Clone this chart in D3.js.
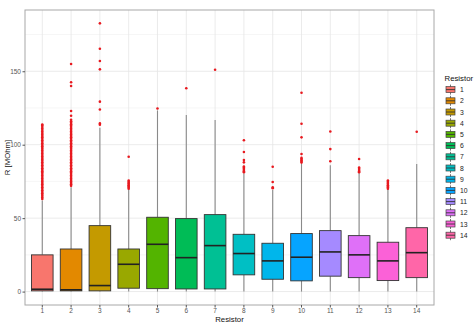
<!DOCTYPE html>
<html><head><meta charset="utf-8">
<script src="https://cdn.jsdelivr.net/npm/d3@7"></script>
<style>body{margin:0;background:#fff}svg{display:block}text{font-family:"Liberation Sans",Arial,sans-serif}</style>
</head><body><div id="chart"></div>
<script>
const categories = ["1","2","3","4","5","6","7","8","9","10","11","12","13","14"];
const colors = ["#F8766D","#E38900","#C49A00","#99A800","#53B400","#00BC56","#00C094","#00BFC4","#00B6EB","#06A4FF","#A58AFF","#DF70F8","#FB61D7","#FF66A8"];
const whiskerLow = [0,0,0,0,0,0,0,0,0,0,0,0,0,0];
const q1 = [0.5,0.5,0.5,2.3,2,1.8,1.8,11.4,8.4,7.3,10.5,9.5,7.5,9.5];
const median = [1.6,1.2,4.1,18.6,32.2,23.1,31.3,25.9,20.9,23.4,27,25,20.9,26.5];
const q3 = [25,29,44.9,29,50.6,49.7,52.4,39,32.9,39.5,41.5,38.1,33.6,43.5];
const whiskerHigh = [62,71,111.6,69.5,123.3,120.2,116.8,80.5,69.2,87,86,81.5,71,86.9];
const outliers = [
  [63,64,65,66,67,68,69,70,71,72,73,74,75,76,77,78,79,80,81,82,83,84,85,86,87,88,89,90,91,92,93,94,95,96,97,98,99,100,101,102,103,104,105,106,107,108,109,110,111,112,113,113.8],
  [72,73,74,75,76,77,78,79,80,81,82,83,84,85,86,87,88,89,90,91,92,93,94,95,96,97,98,99,100,101,102,103,104,105,106,107,108,109,110,111,112,113,114,115,116,117,119.7,122.9,140,142.5,154.9],
  [113.6,114.5,124,129.3,151.3,157,165.3,182.6],
  [70,70.8,71.6,72.4,73.2,74,74.8,75.6,91.8],
  [124.6],
  [138.4],
  [151],
  [81.2,82,82.8,83.6,84.4,85.2,88,89.6,95,103],
  [70.3,71,74.6,85],
  [87.8,88.6,89.4,90.2,91,93.7,105,114.3,135.4],
  [88.7,97,109],
  [81.2,82,82.8,83.6,84.4,90.3],
  [70,70.8,71.6,72.4,73.2,74,74.8,75.6],
  [108.8]
];
const yTicks = [0,50,100,150];
const yMinor = [25,75,125,175];

const W = 474, H = 323;
const m = {left:25, top:10, right:40, bottom:18};
const pw = 409, ph = 295;
const svg = d3.select("#chart").append("svg").attr("width",W).attr("height",H);
const g = svg.append("g").attr("transform",`translate(${m.left},${m.top})`);

const x = d3.scaleBand().domain(categories).range([0,pw]).paddingOuter(0.1).paddingInner(0);
const step = x.step();
const y = d3.scaleLinear().domain([-9.13,191.7]).range([ph,0]);

// grid
g.selectAll(".ymin").data(yMinor).join("line").attr("x1",0).attr("x2",pw)
  .attr("y1",d=>y(d)).attr("y2",d=>y(d)).attr("stroke","#f0f0f0").attr("stroke-width",0.6);
g.selectAll(".ymaj").data(yTicks).join("line").attr("x1",0).attr("x2",pw)
  .attr("y1",d=>y(d)).attr("y2",d=>y(d)).attr("stroke","#e6e6e6").attr("stroke-width",0.8);
g.selectAll(".xmaj").data(categories).join("line").attr("y1",0).attr("y2",ph)
  .attr("x1",d=>x(d)+step/2).attr("x2",d=>x(d)+step/2).attr("stroke","#e6e6e6").attr("stroke-width",0.8);

const bw = step*0.75;
const boxes = g.selectAll(".box").data(categories).join("g");
boxes.append("line").attr("x1",(d)=>x(d)+step/2).attr("x2",d=>x(d)+step/2)
  .attr("y1",(d,i)=>y(q3[i])).attr("y2",(d,i)=>y(whiskerHigh[i])).attr("stroke","#8a8a8a").attr("stroke-width",1.1);
boxes.append("line").attr("x1",(d)=>x(d)+step/2).attr("x2",d=>x(d)+step/2)
  .attr("y1",(d,i)=>y(q1[i])).attr("y2",(d,i)=>y(whiskerLow[i])).attr("stroke","#8a8a8a").attr("stroke-width",1.1);
boxes.append("rect").attr("x",d=>x(d)+(step-bw)/2).attr("width",bw)
  .attr("y",(d,i)=>y(q3[i])).attr("height",(d,i)=>y(q1[i])-y(q3[i]))
  .attr("fill",(d,i)=>colors[i]).attr("stroke","#333").attr("stroke-width",0.9);
boxes.append("line").attr("x1",d=>x(d)+(step-bw)/2).attr("x2",d=>x(d)+(step+bw)/2)
  .attr("y1",(d,i)=>y(median[i])).attr("y2",(d,i)=>y(median[i])).attr("stroke","#222").attr("stroke-width",1.6);
boxes.each(function(d,i){
  d3.select(this).selectAll("circle").data(outliers[i]).join("circle")
    .attr("cx",x(d)+step/2).attr("cy",v=>y(v)).attr("r",1.3).attr("fill","#e8191f");
});

// border
g.append("rect").attr("width",pw).attr("height",ph).attr("fill","none").attr("stroke","#a8a8a8").attr("stroke-width",1);

// axes
const yAxis = g.append("g").call(d3.axisLeft(y).tickValues(yTicks).tickSize(2.5).tickPadding(1.5));
const xAxis = g.append("g").attr("transform",`translate(0,${ph})`).call(d3.axisBottom(x).tickSize(2.5).tickPadding(0.8));
[yAxis,xAxis].forEach(a=>{
  a.select(".domain").remove();
  a.selectAll(".tick line").attr("stroke","#555");
  a.selectAll("text").attr("fill","#555").attr("font-size",6.5);
});

svg.append("text").attr("transform",`translate(10,${m.top+ph/2}) rotate(-90)`).attr("text-anchor","middle")
  .attr("font-size",7.8).attr("fill","#111").text("R [MOhm]");
svg.append("text").attr("x",m.left+pw/2).attr("y",322).attr("text-anchor","middle")
  .attr("font-size",7.8).attr("fill","#111").text("Resistor");

// legend
const lg = svg.append("g").attr("transform","translate(441,0)");
lg.append("text").attr("x",3.5).attr("y",80.5).attr("font-size",7.8).attr("fill","#111").text("Resistor");
const items = lg.selectAll(".li").data(categories).join("g")
  .attr("transform",(d,i)=>`translate(0,${89.6+i*11.2})`);
items.append("line").attr("x1",9.5).attr("x2",9.5).attr("y1",-5).attr("y2",5).attr("stroke","#555").attr("stroke-width",0.8);
items.append("rect").attr("x",5).attr("y",-3).attr("width",9).attr("height",6)
  .attr("fill",(d,i)=>colors[i]).attr("stroke","#444").attr("stroke-width",0.7);
items.append("line").attr("x1",5).attr("x2",14).attr("y1",0).attr("y2",0).attr("stroke","#333").attr("stroke-width",0.9);
items.append("text").attr("x",19).attr("y",2.5).attr("font-size",6.8).attr("fill","#222").text(d=>d);
</script></body></html>
